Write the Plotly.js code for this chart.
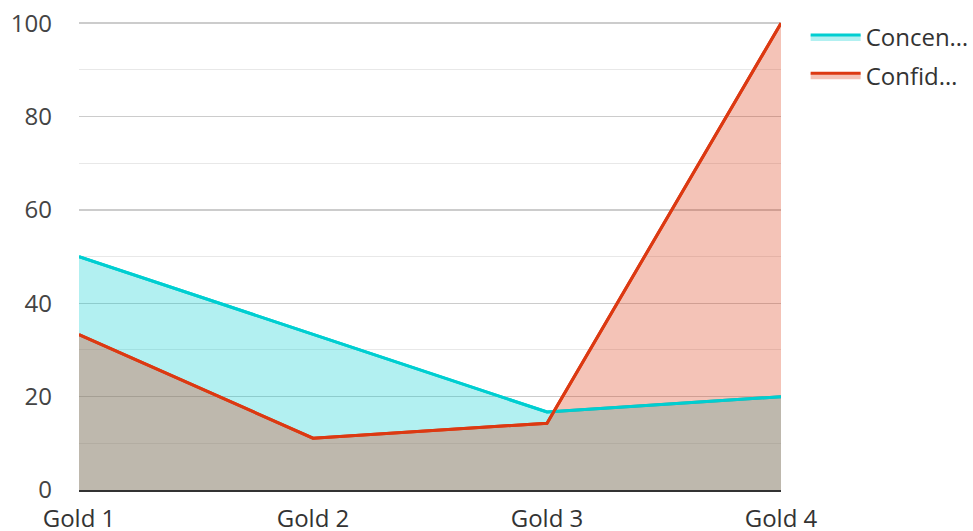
<!DOCTYPE html>
<html>
<head>
<meta charset="utf-8">
<script src="https://cdn.plot.ly/plotly-3.0.1.min.js"></script>
<style>html,body{margin:0;padding:0;background:#fff}#chart{width:973px;height:531px}</style>
</head>
<body>
<div id="chart"></div>
<script>
const categories = ["Gold 1", "Gold 2", "Gold 3", "Gold 4"];
const seriesNames = ["Concen…", "Confid…"];
const concenValues = [50, 33.3, 16.7, 20];
const confidValues = [33.3, 11.1, 14.3, 100];
const yTickVals = [0, 20, 40, 60, 80, 100];

const cyan = "rgb(0,206,209)", cyanFill = "rgba(0,206,209,0.3)";
const red = "rgb(220,57,18)", redFill = "rgba(220,57,18,0.3)";

const traces = [
  {
    x: categories, y: concenValues, name: seriesNames[0], type: "scatter", mode: "lines",
    fill: "tozeroy", fillcolor: cyanFill, line: {color: cyan, width: 3},
    legendgroup: "a", cliponaxis: false
  },
  {
    x: categories, y: confidValues, name: seriesNames[1], type: "scatter", mode: "lines",
    fill: "tozeroy", fillcolor: redFill, line: {color: red, width: 3},
    legendgroup: "b", cliponaxis: false
  },
  {
    x: categories, y: concenValues, type: "scatter", mode: "lines", showlegend: false,
    line: {color: cyan, width: 3}, cliponaxis: false
  },
  {
    x: categories, y: confidValues, type: "scatter", mode: "lines", showlegend: false,
    line: {color: red, width: 3}, cliponaxis: false
  }
];

const layout = {
  width: 973, height: 531,
  margin: {l: 79, r: 192, t: 22, b: 41},
  paper_bgcolor: "#fff", plot_bgcolor: "#fff",
  font: {family: "Open Sans, Noto Sans, sans-serif", size: 24, color: "#444"},
  showlegend: true,
  legend: {xref: "container", yref: "container", x: 0.828, xanchor: "left", y: 0.972, yanchor: "top",
           font: {size: 24, color: "#333"}, itemwidth: 50,
           bgcolor: "rgba(0,0,0,0)", tracegroupgap: 4},
  xaxis: {
    type: "category", range: [0, 3], showgrid: false, zeroline: false,
    showline: true, linecolor: "#333", linewidth: 2, ticks: "",
    tickfont: {size: 24, color: "#333"}, ticklabelstandoff: 6
  },
  yaxis: {
    range: [0, 100.25], tickvals: yTickVals, showgrid: true, gridcolor: "#cccccc", gridwidth: 1.5,
    zeroline: false, showline: false, ticks: "",
    minor: {dtick: 10, showgrid: true, gridcolor: "#e8e8e8", gridwidth: 1},
    tickfont: {size: 24, color: "#444"}, ticklabelstandoff: 26
  },
  hovermode: false
};

Plotly.newPlot("chart", traces, layout, {displayModeBar: false, staticPlot: true});
</script>
</body>
</html>
